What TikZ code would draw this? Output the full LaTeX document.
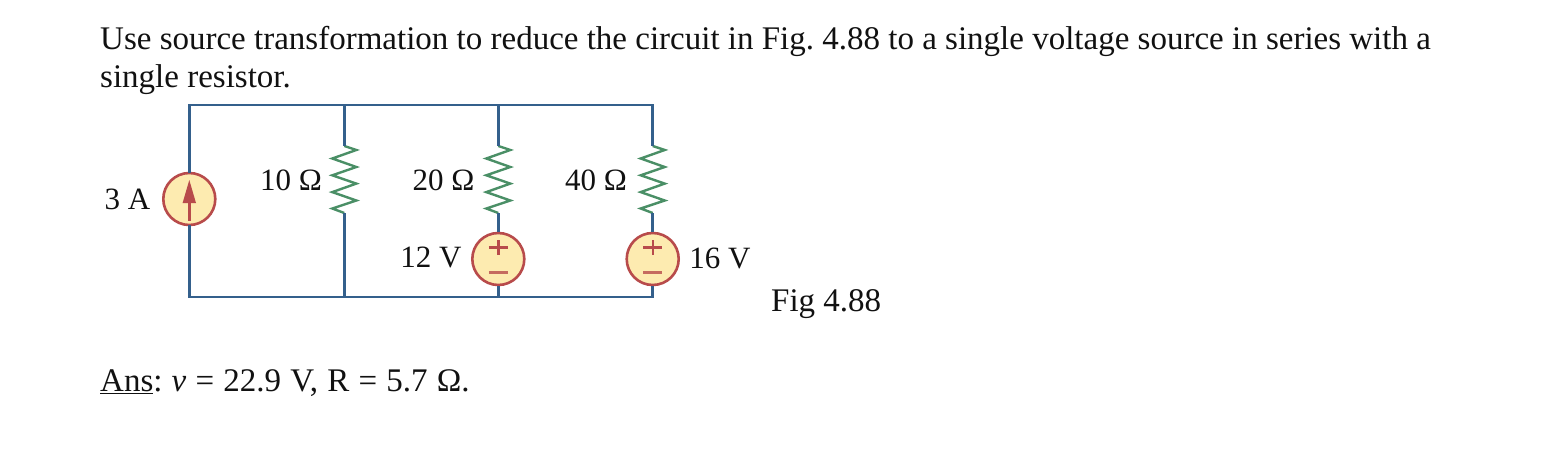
\documentclass[tikz,border=0pt]{standalone}
\usepackage{fontspec}
\setmainfont{Liberation Serif}
\definecolor{wirec}{HTML}{34608C}
\definecolor{resc}{HTML}{4A8F66}
\definecolor{srcfill}{HTML}{FDEBB0}
\definecolor{srcline}{HTML}{B84B4B}
\definecolor{txt}{HTML}{111111}
\tikzset{
  wire/.style={draw=wirec,line width=2.8pt,line cap=rect},
  thinwire/.style={draw=wirec,line width=2.6pt},
  source/.style={circle,draw=srcline,fill=srcfill,line width=2.6pt,minimum size=52pt,inner sep=0pt},
  zig/.style={draw=resc,line width=2.4pt,line join=miter},
  body/.style={anchor=base west,inner sep=0pt,text=txt,font=\fontsize{33}{33}\selectfont},
  circ/.style={anchor=base,inner sep=0pt,text=txt,font=\fontsize{31}{31}\selectfont}
}
\newcommand{\zigres}[2]{% x, name
  \coordinate (#2a) at (#1,146);
  \coordinate (#2b) at (#1,213);
  \draw[zig] (#2a) -- ++(12,4) -- ++(-24,8.5) -- ++(24,8.5) -- ++(-24,8.3) -- ++(24,8.3) -- ++(-24,8.5) -- ++(24,8.4) -- ++(-24,8) -- (#2b);
}
\begin{document}
\frenchspacing
\begin{tikzpicture}[x=1pt,y=-1pt]
\useasboundingbox[fill=white] (0,0) rectangle (1550,460);
\node[body] (l1) at (100,50) {Use source transformation to reduce the circuit in Fig. 4.88 to a single voltage source in series with a};
\node[body] (l2) at (100,88) {single resistor.};
\node[body] (fig) at (771,311) {Fig 4.88};
\node[body] (ans) at (100,391) {\spaceskip=9.2pt\underline{Ans}: \textit{v} = 22.9 V, R = 5.7 Ω.};
% corners and junctions
\coordinate (tl) at (189.3,105);
\coordinate (tm1) at (344.3,105);
\coordinate (tm2) at (498.3,105);
\coordinate (tr) at (652.7,105);
\coordinate (bl) at (189.3,297);
\coordinate (bm1) at (344.3,297);
\coordinate (bm2) at (498.3,297);
\coordinate (br) at (652.7,297);
\node[source] (cs) at (189.3,199) {};
\node[source] (v1) at (498.3,259) {};
\node[source] (v2) at (652.7,259) {};
\zigres{344.3}{r1}
\zigres{498.3}{r2}
\zigres{652.7}{r3}
% wires
\draw[wire] (cs.north) -- (tl) -- (tr);
\draw[wire] (cs.south) -- (bl) -- (br);
\draw[thinwire] (tm1) -- (r1a);
\draw[thinwire] (r1b) -- (bm1);
\draw[thinwire] (tm2) -- (r2a);
\draw[thinwire] (r2b) -- (v1.north);
\draw[thinwire] (v1.south) -- (bm2);
\draw[thinwire] (tr) -- (r3a);
\draw[thinwire] (r3b) -- (v2.north);
\draw[thinwire] (v2.south) -- (br);
% arrow in current source
\fill[srcline] (189.3,180) -- (196,203) -- (182.6,203) -- cycle;
\draw[srcline,line width=2.6pt] (189.3,200) -- (189.3,221);
% polarity marks
\foreach \n in {v1,v2}{
  \draw[srcline,line width=2.4pt] ([xshift=-9.5pt,yshift=11.5pt]\n.center) -- ([xshift=9.5pt,yshift=11.5pt]\n.center);
  \draw[srcline,line width=2.4pt] ([yshift=19pt]\n.center) -- ([yshift=4.5pt]\n.center);
  \draw[srcline,line width=2.6pt,opacity=.8] ([xshift=-9.5pt,yshift=-13.5pt]\n.center) -- ([xshift=9.5pt,yshift=-13.5pt]\n.center);
}
% labels
\node[circ] (la) at (127.5,209) {3 A};
\node[circ] (lr1) at (291,190) {10 Ω};
\node[circ] (lr2) at (443.5,190) {20 Ω};
\node[circ] (lr3) at (596,190) {40 Ω};
\node[circ] (lv1) at (431,267) {12 V};
\node[circ] (lv2) at (720,268) {16 V};
\end{tikzpicture}
\end{document}
